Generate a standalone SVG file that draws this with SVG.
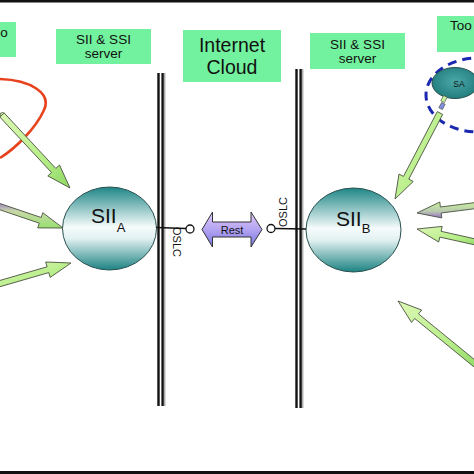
<svg xmlns="http://www.w3.org/2000/svg" width="474" height="474" viewBox="0 0 474 474">
<defs>
<style>
.box{fill:#72f29e}
.lbl{font-family:"Liberation Sans",Arial,sans-serif;fill:#111;text-anchor:middle}
.wall{stroke:#111;stroke-width:2.4}
.wallg{stroke:#888;stroke-width:1}
.arr{stroke:#4a5040;stroke-width:0.9;stroke-linejoin:round}
.conn{stroke:#111;stroke-width:1.3;fill:none}
.port{fill:#fff;stroke:#111;stroke-width:1.3}
.node{stroke:#2a4f4f;stroke-width:1}
</style>
<linearGradient id="gSII" x1="0" y1="0" x2="0" y2="1">
<stop offset="0" stop-color="#1f8686"/>
<stop offset="0.48" stop-color="#f6fbfb"/>
<stop offset="0.62" stop-color="#e2f1f1"/>
<stop offset="1" stop-color="#1c8282"/>
</linearGradient>
<radialGradient id="gSA" cx="0.5" cy="0.45" r="0.6">
<stop offset="0" stop-color="#4aa8a8"/>
<stop offset="1" stop-color="#1f7a7a"/>
</radialGradient>
<linearGradient id="gArr" x1="0" y1="0" x2="1" y2="1">
<stop offset="0" stop-color="#dcf8b4"/>
<stop offset="0.6" stop-color="#b8ee8a"/>
<stop offset="1" stop-color="#8ed864"/>
</linearGradient>
<linearGradient id="gArrT" x1="0" y1="0" x2="0" y2="1">
<stop offset="0" stop-color="#9a78c8"/>
<stop offset="0.35" stop-color="#c8d8a8"/>
<stop offset="1" stop-color="#98e070"/>
</linearGradient>
<linearGradient id="gArrB" x1="0" y1="0" x2="0" y2="1">
<stop offset="0" stop-color="#c8f09c"/>
<stop offset="0.6" stop-color="#b8c8b0"/>
<stop offset="1" stop-color="#9a70c8"/>
</linearGradient>
<linearGradient id="gRest" x1="0" y1="0" x2="0" y2="1">
<stop offset="0" stop-color="#e2c8f8"/>
<stop offset="0.5" stop-color="#b4a4f2"/>
<stop offset="1" stop-color="#7676e0"/>
</linearGradient>
</defs>

<rect x="0" y="0" width="474" height="474" fill="#fff"/>
<rect x="0" y="0" width="474" height="2.5" fill="#111"/>
<rect x="0" y="471" width="474" height="3" fill="#111"/>

<g id="label-left-partial">
<rect class="box" x="0" y="22" width="16" height="35"/>
<text class="lbl" x="4" y="37" font-size="13.5">o</text>
</g>
<g id="label-server-a">
<rect class="box" x="56" y="29" width="95" height="35"/>
<text class="lbl" x="103.5" y="44" font-size="13.5">SII &amp; SSI</text>
<text class="lbl" x="103.5" y="57.5" font-size="13.5">server</text>
</g>
<g id="label-internet">
<rect class="box" x="183" y="30" width="98" height="52"/>
<text class="lbl" x="232" y="51.5" font-size="19.5">Internet</text>
<text class="lbl" x="232" y="73.5" font-size="19.5">Cloud</text>
</g>
<g id="label-server-b">
<rect class="box" x="310" y="33" width="95" height="36"/>
<text class="lbl" x="357.5" y="49" font-size="13.5">SII &amp; SSI</text>
<text class="lbl" x="357.5" y="62.5" font-size="13.5">server</text>
</g>
<g id="label-tool">
<rect class="box" x="437" y="16" width="37" height="36"/>
<text class="lbl" x="450" y="30" font-size="13.5" style="text-anchor:start">Too</text>
</g>

<g id="wall-left">
<line class="wall" x1="158.5" y1="73" x2="158.5" y2="406"/>
<line class="wall" x1="162.6" y1="73" x2="162.6" y2="406"/>
<line class="wallg" x1="164.8" y1="73" x2="164.8" y2="406"/>
</g>
<g id="wall-right">
<line class="wall" x1="296.5" y1="69" x2="296.5" y2="408"/>
<line class="wall" x1="300.6" y1="69" x2="300.6" y2="408"/>
<line class="wallg" x1="302.8" y1="69" x2="302.8" y2="408"/>
</g>

<g id="tool-group">
<path d="M 0 79 C 30 80 52 93 44 110 C 36 128 16 148 0 158" fill="none" stroke="#e8421c" stroke-width="2.6"/>
<ellipse cx="478" cy="95" rx="52" ry="37" fill="none" stroke="#1a28b0" stroke-width="3" stroke-dasharray="9 6"/>
</g>

<g id="SA">
<ellipse class="node" cx="455" cy="83" rx="23" ry="15.5" fill="url(#gSA)"/>
<text class="lbl" x="459" y="87" font-size="8.5" fill="#223">SA</text>
</g>

<g id="SII_A">
<ellipse class="node" cx="109.5" cy="228.5" rx="47" ry="41.5" fill="url(#gSII)"/>
<text class="lbl" x="91" y="223" font-size="21" style="text-anchor:start">SII<tspan font-size="13" dy="9">A</tspan></text>
</g>
<g id="SII_B">
<ellipse class="node" cx="353.5" cy="230" rx="47.5" ry="42" fill="url(#gSII)"/>
<text class="lbl" x="336" y="226" font-size="21" style="text-anchor:start">SII<tspan font-size="13" dy="7">B</tspan></text>
</g>

<g id="rest">
<polygon points="202,229.5 212.5,212 212.5,222 251,222 251,212 262,229.5 251,247 251,237 212.5,237 212.5,247" fill="url(#gRest)" stroke="#333" stroke-width="1"/>
<text class="lbl" x="232" y="233.5" font-size="11">Rest</text>
</g>

<g id="connectors">
<line class="conn" x1="156" y1="227.5" x2="186" y2="228.5"/>
<circle class="port" cx="190" cy="229" r="4"/>
<text class="lbl" font-size="11" style="text-anchor:start" transform="translate(172.5,227) rotate(90)">OSLC</text>
<line class="conn" x1="275" y1="228.5" x2="306" y2="229"/>
<circle class="port" cx="271" cy="228.5" r="4"/>
<text class="lbl" font-size="11" style="text-anchor:start" transform="translate(286.5,227) rotate(-90)">OSLC</text>

<circle cx="2.5" cy="115" r="2.5" fill="#c8f09c" stroke="#4a5040" stroke-width="0.8"/>
<polygon class="arr" fill="url(#gArr)" points="-0.2,117 51.5,172.5 47.8,175.9 70,188 59.5,165 55.8,168.4 4.2,113"/>
<polygon class="arr" fill="url(#gArrT)" points="-6,207.8 39.3,223.2 37.7,227.9 63,228 42.8,212.7 41.2,217.5 -4,202.2"/>
<polygon class="arr" fill="url(#gArr)" points="-4.2,287.9 48.8,272.6 50.2,277.4 71,263 45.7,262 47.1,266.8 -5.8,282.1"/>

<rect x="441" y="97" width="6" height="4" fill="#c8f09c" stroke="#4a5040" stroke-width="0.6" transform="rotate(-62 444 99)"/>
<rect x="439" y="104" width="6" height="4" fill="#8090e0" stroke="#4a5040" stroke-width="0.6" transform="rotate(-62 442 106)"/>
<polygon class="arr" fill="url(#gArr)" points="442.7,114.4 408.8,179.1 413.2,181.5 395,199 399,174 403.5,176.4 437.3,111.6"/>
<polygon class="arr" fill="url(#gArrB)" points="480.4,208 441.2,213 441.8,217.9 417,213 439.8,202 440.4,207 479.6,202"/>
<polygon class="arr" fill="url(#gArr)" points="480.7,240.1 441.1,231.3 442.2,226.4 417,229 438.7,242 439.8,237.1 479.4,245.9"/>
<polygon class="arr" fill="url(#gArr)" points="481.9,365.7 418.5,313.9 421.6,310 398,301 411.5,322.4 414.7,318.5 478.1,370.3"/>
</g>
</svg>
